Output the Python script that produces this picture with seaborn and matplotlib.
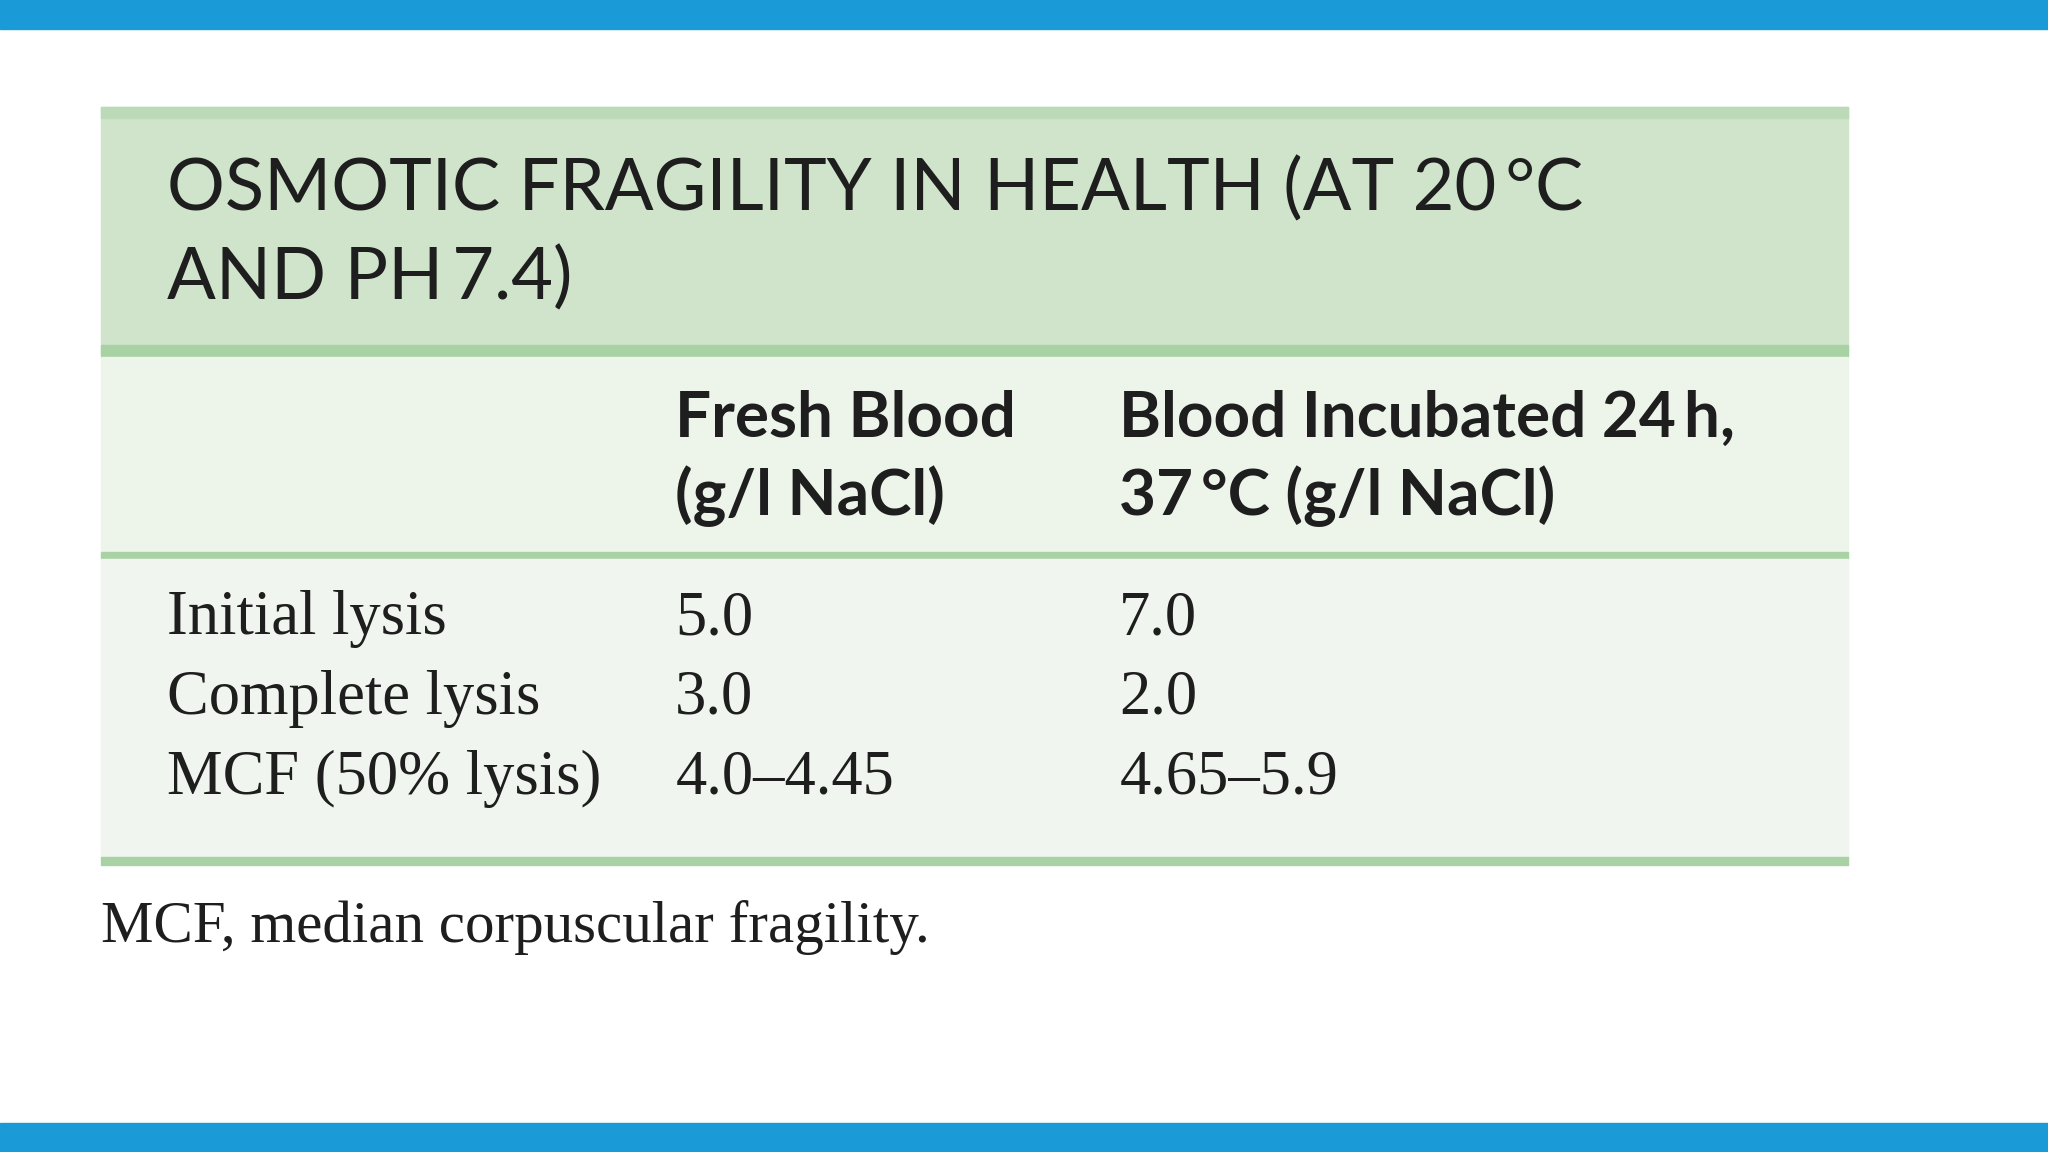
import matplotlib
matplotlib.use("Agg")
import matplotlib.pyplot as plt
import seaborn as sns
from matplotlib.patches import Rectangle

# Datos de la tabla
titulo = ["OSMOTIC FRAGILITY IN HEALTH (AT 20\u2009°C", "AND PH\u20097.4)"]
columnas = [["Fresh Blood", "(g/l NaCl)"], ["Blood Incubated 24\u2009h,", "37\u2009°C (g/l NaCl)"]]
filas = ["Initial lysis", "Complete lysis", "MCF (50% lysis)"]
fresca = ["5.0", "3.0", "4.0\u20134.45"]
incubada = ["7.0", "2.0", "4.65\u20135.9"]
nota = "MCF, median corpuscular fragility."

sns.set_theme(style="white")
plt.rcParams['font.family'] = ['Lato', 'DejaVu Sans']

W, H = 1568, 882
fig = plt.figure(figsize=(20.48, 11.52), dpi=100)
ax = fig.add_axes([0, 0, 1, 1])
ax.set_xlim(0, W)
ax.set_ylim(H, 0)
ax.axis("off")

azul = "#1a9bd8"
verde_linea = "#a9d2a4"
ax.add_patch(Rectangle((0, 0), W, 22, color=azul))
ax.add_patch(Rectangle((0, 860), W, 22, color=azul))

x0, x1 = 77, 1415
ax.add_patch(Rectangle((x0, 82), x1 - x0, 188, color="#cfe4cb"))
ax.add_patch(Rectangle((x0, 82), x1 - x0, 8, color="#bcdab7"))
ax.add_patch(Rectangle((x0, 264), x1 - x0, 9, color=verde_linea))
ax.add_patch(Rectangle((x0, 273), x1 - x0, 150, color="#edf5eb"))
ax.add_patch(Rectangle((x0, 423), x1 - x0, 5, color=verde_linea))
ax.add_patch(Rectangle((x0, 428), x1 - x0, 229, color="#f1f5ef"))
ax.add_patch(Rectangle((x0, 656), x1 - x0, 6, color=verde_linea))

tinta = "#1e1e1e"
for i, t in enumerate(titulo):
    ax.text(128, 145 + i * 68, t, fontsize=52, color=tinta, va="center", ha="left")

cx = [517, 857]
for c, lineas in zip(cx, columnas):
    for i, t in enumerate(lineas):
        ax.text(c, 320 + i * 60, t, fontsize=46, fontweight="bold", color=tinta,
                va="center", ha="left")

serif = ["Liberation Serif", "DejaVu Serif"]
for i, (f, a, b) in enumerate(zip(filas, fresca, incubada)):
    y = 474 + i * 61
    ax.text(128, y, f, fontsize=45, family=serif, color=tinta, va="center")
    ax.text(cx[0], y, a, fontsize=45, family=serif, color=tinta, va="center")
    ax.text(cx[1], y, b, fontsize=45, family=serif, color=tinta, va="center")

ax.text(77, 710, nota, fontsize=42.5, family=serif, color=tinta, va="center")

fig.savefig("out.png", dpi=100, facecolor="white")
